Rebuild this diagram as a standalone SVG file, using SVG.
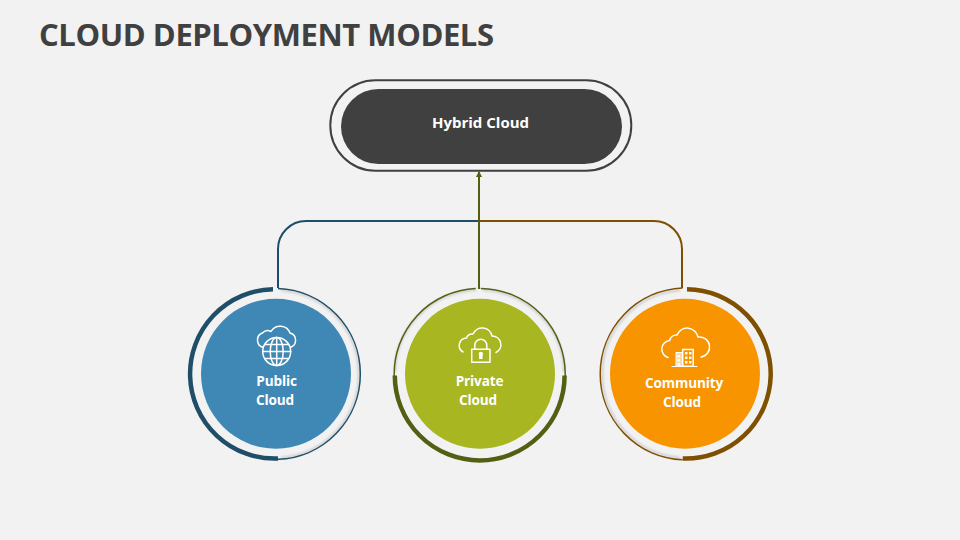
<svg xmlns="http://www.w3.org/2000/svg" width="960" height="540" viewBox="0 0 960 540">
<defs>
<style>
.t{font-family:"Open Sans","Liberation Sans",sans-serif;font-weight:700;fill:#fff;font-size:13.6px;letter-spacing:-.15px;text-anchor:middle}
.ic{fill:none;stroke:#fff;stroke-width:1.5;stroke-linecap:round;stroke-linejoin:round}
.c{fill:none;stroke-width:2}
.sh{fill:none;stroke:#bbb;stroke-width:2;opacity:.7}
</style>
<filter id="sh" x="-10%" y="-10%" width="120%" height="120%"><feGaussianBlur stdDeviation="1.2"/></filter>
<marker id="arr" viewBox="0 0 6 6" refX="5" refY="3" markerWidth="3" markerHeight="3" orient="auto"><path d="M0 0L6 3L0 6Z" fill="#545f14"/></marker>
</defs>
<rect width="960" height="540" fill="#f2f2f2"/>
<text x="39" y="46" font-family="Open Sans, Liberation Sans, sans-serif" font-weight="700" font-size="31" letter-spacing="-.42" fill="#404040">CLOUD DEPLOYMENT MODELS</text>
<g id="connectors">
<path class="c" stroke="#1f4e69" d="M278 288V249a28 28 0 0 1 28-28H479"/>
<path class="c" stroke="#7f5000" d="M682 288V249a28 28 0 0 0-28-28H479"/>
<path class="c" stroke="#545f14" d="M479 289V172" marker-end="url(#arr)"/>
</g>
<g id="hybrid">
<rect x="330.300" y="80.300" width="301" height="90.500" rx="45.200" fill="none" stroke="#404040" stroke-width="2"/>
<rect x="341" y="89" width="281" height="75" rx="37.500" fill="#404040"/>
<text class="t" x="480.500" y="128" style="font-size:15px;letter-spacing:0">Hybrid Cloud</text>
</g>
<g id="public">
<path class="sh" filter="url(#sh)" d="M281 290.130A84 84 0 0 1 281 457.670"/>
<path d="M278 288.460A85.500 85.500 0 0 1 278 459.340" fill="none" stroke="#1f4e69" stroke-width="1.500"/>
<path d="M273 289.220A84.700 84.700 0 1 0 278 458.540" fill="none" stroke="#1f4e69" stroke-width="4.500"/>
<circle cx="276" cy="373.700" r="75" fill="#3f88b5"/>
<path class="ic" d="M264 347.500A7.500 7.500 0 0 1 262.500 333A7 7 0 0 1 271 331.500A10.500 10.500 0 0 1 290 333A7.500 7.500 0 0 1 290 347.500"/>
<circle cx="276.700" cy="351.500" r="14" fill="#3f88b5" stroke="#fff" stroke-width="1.500"/>
<path class="ic" d="M262.700 351.500h28M264.700 344.500h24M264.700 358.500h24M276.700 337.500v28"/>
<ellipse class="ic" cx="276.700" cy="351.500" rx="6.500" ry="14"/>
<text class="t" x="276.500" y="386">Public</text>
<text class="t" x="275" y="405">Cloud</text>
</g>
<g id="private">
<path class="sh" filter="url(#sh)" d="M395 372A85 83 0 0 1 476 290M483 290A85 83 0 0 1 564 372"/>
<path d="M565.170 376A85.500 85.500 0 0 0 480.800 288.400M475.700 288.500A85.500 85.500 0 0 0 394.230 376" fill="none" stroke="#545f14" stroke-width="1.500"/>
<path d="M394.800 375.500A84.900 84.900 0 0 0 564.600 375.500" fill="none" stroke="#545f14" stroke-width="4.500"/>
<circle cx="480" cy="373.700" r="75" fill="#a7b621"/>
<path class="ic" d="M463 352A7.500 7.500 0 0 1 466.500 338A6 6 0 0 1 473 334A10 10 0 0 1 492 336A8.700 8.700 0 0 1 496 352.500"/>
<rect class="ic" x="471.700" y="349.300" width="18.300" height="13"/>
<path class="ic" d="M474.800 349.300v-4a6 6 0 0 1 12 0v4"/>
<path d="M479 354h3.500v5h-3.500z" fill="#fff"/>
<circle cx="480.800" cy="354" r="2.200" fill="#fff"/>
<text class="t" x="479.500" y="386">Private</text>
<text class="t" x="478" y="405">Cloud</text>
</g>
<g id="community">
<path class="sh" filter="url(#sh)" d="M680 290.130A84 84 0 0 0 680 457.670"/>
<path d="M682.500 287.980A86 86 0 0 0 682.500 459.820" fill="none" stroke="#7f5000" stroke-width="1.500"/>
<path d="M687 289.200A84.700 84.700 0 1 1 682.700 458.530" fill="none" stroke="#7f5000" stroke-width="4.500"/>
<circle cx="685" cy="373.700" r="75" fill="#f79400"/>
<path class="ic" d="M668 357.500A8.700 8.700 0 0 1 669.700 340.500A7 7 0 0 1 677 335A11 11 0 0 1 698 337A10 10 0 0 1 701 357"/>
<path d="M676 352.500h7v13.500h-7z" fill="#fbd9a3" stroke="#fff"/>
<path d="M682.700 349.500h10.500v16.800h-10.500z" fill="#f79400" stroke="#fff" stroke-width="1.500"/>
<path d="M685 352h2.500v2.500H685zM689 352h2.500v2.500H689zM685 356.500h2.500v2.500H685zM689 356.500h2.500v2.500H689zM685 361h2.500v2.500H685zM689 361h2.500v2.500H689zM677.500 355h2.500v2.500h-2.500zM677.500 359h2.500v2.500h-2.500zM677.500 363h2.500v2h-2.500z" fill="#fff"/>
<path class="ic" d="M672 366.500h25" style="stroke-width:1.200"/>
<text class="t" x="684" y="388">Community</text>
<text class="t" x="682" y="407">Cloud</text>
</g>
</svg>
